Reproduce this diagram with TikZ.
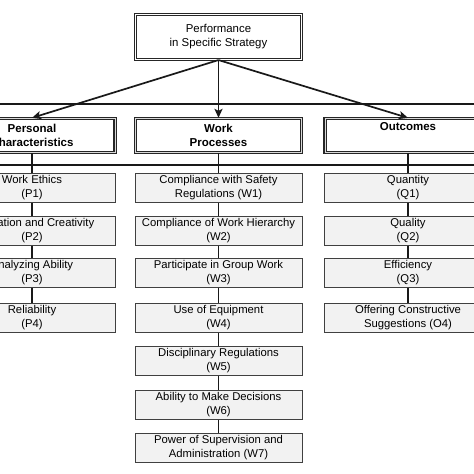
\documentclass[tikz,border=0pt]{standalone}
\usepackage{fontspec}
\setmainfont{Liberation Sans}
\usetikzlibrary{arrows.meta}
\begin{document}
\begin{tikzpicture}[x=1pt,y=-1pt,
  topbox/.style={draw=black!85, double=white, double distance=1.2pt, line width=1.1pt, fill=white,
    minimum width=166pt, minimum height=45pt, align=center, inner sep=0pt,
    font=\fontsize{11.4}{14}\selectfont},
  catbox/.style={draw=black!85, double=black!15, double distance=1pt, line width=1.3pt, fill=white,
    minimum width=166pt, minimum height=34pt, align=center, inner sep=0pt,
    font=\bfseries\fontsize{11.5}{14}\selectfont},
  itembox/.style={draw=black!75, fill=black!5, line width=1pt,
    minimum width=167pt, minimum height=29pt, align=center, inner sep=0pt,
    font=\fontsize{11.3}{14}\selectfont},
  link/.style={line width=1.7pt, black!90},
  arr/.style={line width=1.7pt, black!90, -{Stealth[length=9pt,width=8pt,inset=2pt]}},
  rail/.style={line width=1.8pt, black!90}
]
\clip (0,0) rectangle (474,474);
\fill[white] (0,0) rectangle (474,474);

% rails
\coordinate (r1l) at (0,104);
\coordinate (r1r) at (474,104);
\coordinate (r2l) at (0,165);
\coordinate (r2r) at (474,165);
\draw[rail] (r1l) -- (r1r);
\draw[rail] (r2l) -- (r2r);

% top
\node[topbox] (top) at (218.5,37) {Performance\\in Specific Strategy};

% categories
\node[catbox] (pc) at (32,135.5) {Personal\\Characteristics};
\node[catbox] (wp) at (218.5,135.5) {Work\\Processes};
\node[catbox] (oc) at (408,135.5) {Outcomes\\\strut};

\draw[arr] (top.south) -- (pc.north);
\draw[arr] (top.south) -- (wp.north);
\draw[arr] (top.south) -- (oc.north);

% personal column
\node[itembox] (p1) at (32,187.5) {Work Ethics\\(P1)};
\node[itembox] (p2) at (32,230.5) {Innovation and Creativity\\(P2)};
\node[itembox] (p3) at (32,273) {Analyzing Ability\\(P3)};
\node[itembox] (p4) at (32,317.5) {Reliability\\(P4)};

% work column
\node[itembox] (w1) at (218.5,187.5) {Compliance with Safety\\Regulations (W1)};
\node[itembox] (w2) at (218.5,230.5) {Compliance of Work Hierarchy\\(W2)};
\node[itembox] (w3) at (218.5,273) {Participate in Group Work\\(W3)};
\node[itembox] (w4) at (218.5,317.5) {Use of Equipment\\(W4)};
\node[itembox] (w5) at (218.5,361) {Disciplinary Regulations\\(W5)};
\node[itembox] (w6) at (218.5,404.5) {Ability to Make Decisions\\(W6)};
\node[itembox] (w7) at (218.5,448) {Power of Supervision and\\Administration (W7)};

% outcomes column
\node[itembox] (q1) at (408,187.5) {Quantity\\(Q1)};
\node[itembox] (q2) at (408,230.5) {Quality\\(Q2)};
\node[itembox] (q3) at (408,273) {Efficiency\\(Q3)};
\node[itembox] (q4) at (408,317.5) {Offering Constructive\\Suggestions (O4)};

% vertical connectors
\draw[link] (pc.south) -- (p1.north);
\draw[link] (p1.south) -- (p2.north);
\draw[link] (p2.south) -- (p3.north);
\draw[link] (p3.south) -- (p4.north);

\draw[link] (wp.south) -- (w1.north);
\draw[link] (w1.south) -- (w2.north);
\draw[link] (w2.south) -- (w3.north);
\draw[link] (w3.south) -- (w4.north);
\draw[link] (w4.south) -- (w5.north);
\draw[link] (w5.south) -- (w6.north);
\draw[link] (w6.south) -- (w7.north);

\draw[link] (oc.south) -- (q1.north);
\draw[link] (q1.south) -- (q2.north);
\draw[link] (q2.south) -- (q3.north);
\draw[link] (q3.south) -- (q4.north);
\end{tikzpicture}
\end{document}
